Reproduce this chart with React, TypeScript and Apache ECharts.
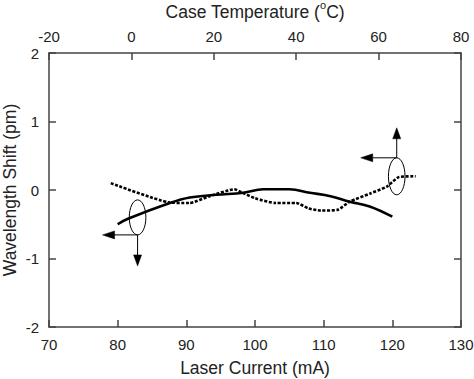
import React, { useEffect, useRef } from "react";
import * as echarts from "echarts";

// Wavelength shift measured while sweeping the laser drive current (bottom axis)
const laserCurrent = [80, 81.5, 87.6, 90.5, 94.4, 98.3, 101.2, 105, 108, 111, 113.8, 116.7, 120];
const shiftVsCurrent = [-0.5, -0.42, -0.19, -0.11, -0.07, -0.04, 0.01, 0.01, -0.04, -0.09, -0.17, -0.24, -0.39];

// Wavelength shift measured while sweeping the case temperature (top axis)
const caseTemperature = [-5, 9, 14, 19, 25, 27, 30, 35, 40, 43, 46, 50, 53, 58, 62, 65, 69];
const shiftVsTemperature = [0.1, -0.18, -0.19, -0.09, 0.01, -0.04, -0.12, -0.19, -0.19, -0.27, -0.3, -0.29, -0.17, -0.05, 0.05, 0.19, 0.2];

// Axis extents and tick steps
const currentRange = [70, 130, 10];
const temperatureRange = [-20, 80, 20];
const shiftRange = [-2, 2, 1];

// Centres of the ellipses that tag each curve with its axes
const currentMarker = [82.9, -0.4];
const temperatureMarker = [64.4, 0.2];

const FONT = '"Liberation Sans", Arial, sans-serif';
const AXIS_COLOR = "#444";
const TEXT_COLOR = "#222";

export default function App() {
  const ref = useRef<HTMLDivElement>(null);

  useEffect(() => {
    document.body.style.margin = "0";
    if (!ref.current) return;
    const chart = echarts.init(ref.current, undefined, { renderer: "svg" });

    const tickCommon = {
      axisLine: { show: true, onZero: false, lineStyle: { color: AXIS_COLOR, width: 1.5 } },
      axisTick: { show: true, inside: true, length: 7, lineStyle: { color: AXIS_COLOR, width: 1.5 } },
      splitLine: { show: false },
      axisLabel: { color: TEXT_COLOR, fontSize: 15, fontFamily: FONT, margin: 10 },
      nameTextStyle: { color: TEXT_COLOR, fontSize: 17.5, fontFamily: FONT },
    };

    chart.setOption({
      animation: false,
      backgroundColor: "#fff",
      grid: { left: 49, right: 13, top: 53, bottom: 52, show: false, containLabel: false, outerBoundsMode: "none" },
      xAxis: [
        {
          ...tickCommon,
          type: "value",
          position: "bottom",
          min: currentRange[0],
          max: currentRange[1],
          interval: currentRange[2],
          name: "Laser Current (mA)",
          nameLocation: "middle",
          nameGap: 32,
        },
        {
          ...tickCommon,
          type: "value",
          position: "top",
          min: temperatureRange[0],
          max: temperatureRange[1],
          interval: temperatureRange[2],
          axisLabel: { ...tickCommon.axisLabel, margin: 9 },
          name: "{t|Case Temperature (}{sup|o}{t|C)}",
          nameLocation: "middle",
          nameGap: 32,
          nameTextStyle: {
            ...tickCommon.nameTextStyle,
            rich: {
              t: { fontSize: 17.5, fontFamily: FONT, color: TEXT_COLOR, lineHeight: 22, verticalAlign: "bottom" },
              sup: { fontSize: 11, fontFamily: FONT, color: TEXT_COLOR, lineHeight: 22, verticalAlign: "top" },
            },
          },
        },
      ],
      yAxis: [
        {
          ...tickCommon,
          type: "value",
          position: "left",
          min: shiftRange[0],
          max: shiftRange[1],
          interval: shiftRange[2],
          name: "Wavelength Shift (pm)",
          nameLocation: "middle",
          nameRotate: 90,
          nameGap: 30,
          nameMoveOverlap: false,
        },
        {
          ...tickCommon,
          type: "value",
          position: "right",
          min: shiftRange[0],
          max: shiftRange[1],
          interval: shiftRange[2],
          axisLabel: { show: false },
        },
      ],
      series: [
        {
          type: "line",
          xAxisIndex: 0,
          yAxisIndex: 0,
          data: laserCurrent.map((x, i) => [x, shiftVsCurrent[i]]),
          smooth: 0.4,
          symbol: "none",
          lineStyle: { color: "#000", width: 2.6 },
        },
        {
          type: "line",
          xAxisIndex: 1,
          yAxisIndex: 0,
          data: caseTemperature.map((x, i) => [x, shiftVsTemperature[i]]),
          smooth: 0.2,
          symbol: "none",
          lineStyle: { color: "#000", width: 2.6, type: [3, 1.6], cap: "butt" },
        },
      ],
    });

    // Axis-indicator annotations: ellipse around the curve with arrows toward its axes
    const [lx, ly] = chart.convertToPixel({ xAxisIndex: 0, yAxisIndex: 0 }, currentMarker) as number[];
    const [rx, ry] = chart.convertToPixel({ xAxisIndex: 1, yAxisIndex: 0 }, temperatureMarker) as number[];
    const stroke = { stroke: "#000", lineWidth: 1, fill: "none" };
    const head = { fill: "#000", stroke: "#000", lineWidth: 0.5 };
    const lBottom = ly + 17.5;
    const rTop = ry - 18.5;

    chart.setOption({
      graphic: [
        { type: "ellipse", shape: { cx: lx, cy: ly, rx: 8.3, ry: 17.5 }, style: stroke },
        { type: "line", shape: { x1: lx, y1: lBottom, x2: lx - 24, y2: lBottom }, style: stroke },
        { type: "polygon", shape: { points: [[lx - 35, lBottom], [lx - 23, lBottom - 4], [lx - 23, lBottom + 4]] }, style: head },
        { type: "line", shape: { x1: lx, y1: lBottom, x2: lx, y2: lBottom + 21 }, style: stroke },
        { type: "polygon", shape: { points: [[lx, lBottom + 31], [lx - 4, lBottom + 20], [lx + 4, lBottom + 20]] }, style: head },

        { type: "ellipse", shape: { cx: rx, cy: ry, rx: 8.3, ry: 18.5 }, style: stroke },
        { type: "line", shape: { x1: rx, y1: rTop, x2: rx - 24, y2: rTop }, style: stroke },
        { type: "polygon", shape: { points: [[rx - 36, rTop], [rx - 24, rTop - 4], [rx - 24, rTop + 4]] }, style: head },
        { type: "line", shape: { x1: rx, y1: rTop, x2: rx, y2: rTop - 20 }, style: stroke },
        { type: "polygon", shape: { points: [[rx, rTop - 30], [rx - 4, rTop - 19], [rx + 4, rTop - 19]] }, style: head },
      ],
    });

    return () => chart.dispose();
  }, []);

  return <div ref={ref} style={{ width: 474, height: 379 }} />;
}
